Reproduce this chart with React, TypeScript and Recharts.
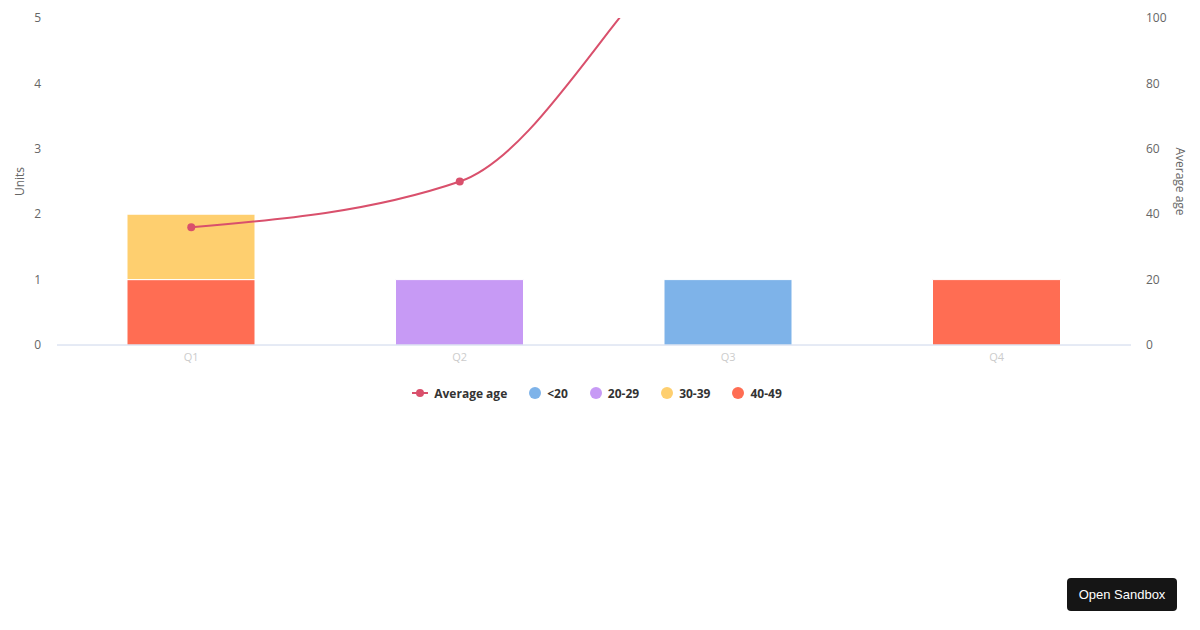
import React from "react";
import {
  Bar,
  ComposedChart,
  Legend,
  Line,
  XAxis,
  YAxis,
} from "recharts";

const quarters = ["Q1", "Q2", "Q3", "Q4"];
const under20 = [null, null, 1, null];
const age20to29 = [null, 1, null, null];
const age30to39 = [1, null, null, null];
const age40to49 = [1, null, null, 1];
const averageAge = [36, 50, 132, 150];

const unitTicks = [0, 1, 2, 3, 4, 5];
const ageTicks = [0, 20, 40, 60, 80, 100];

const COLORS = {
  line: "#d9506c",
  under20: "#7eb3e9",
  age20to29: "#c79af5",
  age30to39: "#fecf6f",
  age40to49: "#ff6d53",
};

const legendItems = [
  { name: "Average age", color: COLORS.line, kind: "line" },
  { name: "<20", color: COLORS.under20, kind: "circle" },
  { name: "20-29", color: COLORS.age20to29, kind: "circle" },
  { name: "30-39", color: COLORS.age30to39, kind: "circle" },
  { name: "40-49", color: COLORS.age40to49, kind: "circle" },
];

const data = quarters.map((q, i) => ({
  quarter: q,
  under20: under20[i],
  age20to29: age20to29[i],
  age30to39: age30to39[i],
  age40to49: age40to49[i],
  averageAge: averageAge[i],
}));

const renderLegend = () => (
  <div
    style={{
      display: "flex",
      justifyContent: "center",
      alignItems: "center",
      height: 36,
      gap: 22,
      paddingRight: 6,
      fontFamily: "'Open Sans', sans-serif",
      fontSize: 12,
      fontWeight: 700,
      color: "#333333",
    }}
  >
    {legendItems.map((item) => (
      <div
        key={item.name}
        style={{ display: "flex", alignItems: "center", gap: 6 }}
      >
        {item.kind === "line" ? (
          <svg width={16} height={12}>
            <line x1={0} y1={6} x2={16} y2={6} stroke={item.color} strokeWidth={2} />
            <circle cx={8} cy={6} r={4} fill={item.color} />
          </svg>
        ) : (
          <svg width={12} height={12}>
            <circle cx={6} cy={6} r={6} fill={item.color} />
          </svg>
        )}
        <span>{item.name}</span>
      </div>
    ))}
  </div>
);

export default function App() {
  return (
    <div
      style={{
        position: "absolute",
        left: 0,
        top: 0,
        width: 1200,
        height: 630,
        background: "#ffffff",
        fontFamily: "'Open Sans', sans-serif",
      }}
    >
      <ComposedChart
        width={1200}
        height={411}
        data={data}
        margin={{ top: 18, right: 0, bottom: 0, left: 0 }}
      >
        <XAxis
          dataKey="quarter"
          axisLine={{ stroke: "#ccd6eb" }}
          tickLine={false}
          tick={{ fill: "#cccccc", fontSize: 11 }}
          height={30}
        />
        <YAxis
          yAxisId="units"
          orientation="left"
          width={57}
          domain={[0, 5]}
          ticks={unitTicks}
          axisLine={false}
          tickLine={false}
          tickSize={0}
          tickMargin={16}
          tick={{ fill: "#666666", fontSize: 12 }}
          label={{
            value: "Units",
            angle: -90,
            position: "insideLeft",
            offset: 20,
            style: { textAnchor: "middle", fill: "#666666", fontSize: 12 },
          }}
        />
        <YAxis
          yAxisId="age"
          orientation="right"
          width={69}
          domain={[0, 100]}
          ticks={ageTicks}
          allowDataOverflow
          axisLine={false}
          tickLine={false}
          tickSize={0}
          tickMargin={15}
          tick={{ fill: "#666666", fontSize: 12 }}
          label={{
            value: "Average age",
            angle: 90,
            position: "insideRight",
            offset: 20,
            style: { textAnchor: "middle", fill: "#666666", fontSize: 12 },
          }}
        />
        <Legend verticalAlign="bottom" content={renderLegend} />
        <Bar
          yAxisId="units"
          dataKey="age40to49"
          name="40-49"
          stackId="ages"
          fill={COLORS.age40to49}
          stroke="#ffffff"
          strokeWidth={1}
          barSize={128}
          isAnimationActive={false}
        />
        <Bar
          yAxisId="units"
          dataKey="age30to39"
          name="30-39"
          stackId="ages"
          fill={COLORS.age30to39}
          stroke="#ffffff"
          strokeWidth={1}
          barSize={128}
          isAnimationActive={false}
        />
        <Bar
          yAxisId="units"
          dataKey="age20to29"
          name="20-29"
          stackId="ages"
          fill={COLORS.age20to29}
          stroke="#ffffff"
          strokeWidth={1}
          barSize={128}
          isAnimationActive={false}
        />
        <Bar
          yAxisId="units"
          dataKey="under20"
          name="<20"
          stackId="ages"
          fill={COLORS.under20}
          stroke="#ffffff"
          strokeWidth={1}
          barSize={128}
          isAnimationActive={false}
        />
        <Line
          yAxisId="age"
          dataKey="averageAge"
          name="Average age"
          type="monotone"
          stroke={COLORS.line}
          strokeWidth={2}
          dot={{ r: 4, fill: COLORS.line, stroke: COLORS.line, strokeWidth: 0 }}
          activeDot={false}
          isAnimationActive={false}
        />
      </ComposedChart>
      <div
        style={{
          position: "absolute",
          left: 1067,
          top: 578,
          width: 110,
          height: 33,
          background: "#151515",
          borderRadius: 4,
          color: "#ffffff",
          fontFamily: "Arial, 'Liberation Sans', sans-serif",
          fontSize: 13,
          display: "flex",
          alignItems: "center",
          justifyContent: "center",
        }}
      >
        Open Sandbox
      </div>
    </div>
  );
}
